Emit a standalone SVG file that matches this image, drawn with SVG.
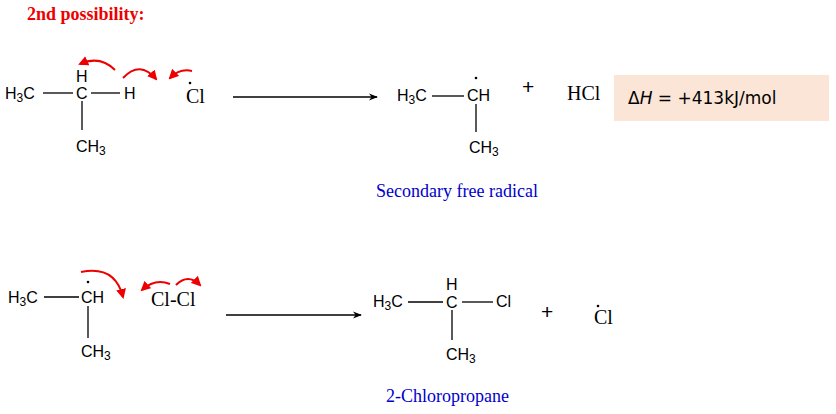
<svg xmlns="http://www.w3.org/2000/svg" width="836" height="414" viewBox="0 0 836 414">
<style>
.s{font-family:"Liberation Sans",Arial,sans-serif;font-size:16px;fill:#000}
.p{font-family:"Liberation Sans",Arial,sans-serif;font-size:21px;fill:#000}
.r{font-family:"Liberation Serif","Times New Roman",serif;font-size:20px;fill:#000}
.bl{font-family:"Liberation Serif","Times New Roman",serif;font-size:18px;fill:#00c}
.b{stroke:#000;stroke-width:1.3;fill:none}
.c{stroke:#e00;stroke-width:2;fill:none}
.sub{font-size:12px}
</style>
<defs>
<marker id="ra" viewBox="0 0 10 10" refX="8" refY="5" markerWidth="5" markerHeight="5" orient="auto"><path d="M0,0 L10,5 L0,10 z" fill="#e00"/></marker>
<marker id="ka" viewBox="0 0 10 10" refX="9" refY="5" markerWidth="9" markerHeight="9" orient="auto" markerUnits="userSpaceOnUse"><path d="M0,1 L10,5 L0,9 L3,5 z" fill="#000"/></marker>
</defs>
<text x="27" y="20" style="font-family:'Liberation Serif',serif;font-size:18px;font-weight:bold;fill:#e00">2nd possibility:</text>
<g id="reactant1">
<text class="s" x="5" y="99">H<tspan class="sub" dy="3">3</tspan><tspan dy="-3">C</tspan></text>
<line class="b" x1="43" y1="93" x2="73" y2="93"/>
<text class="s" x="76" y="99">C</text><text class="s" x="76" y="82">H</text>
<line class="b" x1="91" y1="93" x2="120" y2="93"/>
<text class="s" x="124" y="99">H</text>
<line class="b" x1="82" y1="101" x2="82" y2="130"/>
<text class="s" x="76" y="152">CH<tspan class="sub" dy="3">3</tspan></text>
</g>
<g id="cl1"><text class="r" x="186" y="103">Cl</text><circle cx="190" cy="83" r="1.3"/></g>
<g id="product1">
<text class="s" x="397" y="101">H<tspan class="sub" dy="3">3</tspan><tspan dy="-3">C</tspan></text>
<line class="b" x1="432" y1="96" x2="464" y2="96"/>
<text class="s" x="467" y="101">CH</text><circle cx="476" cy="78" r="1.3"/>
<line class="b" x1="476" y1="104" x2="476" y2="132"/>
<text class="s" x="469" y="153">CH<tspan class="sub" dy="3">3</tspan></text>
</g>
<text class="p" x="522" y="94">+</text>
<text class="r" x="567" y="100">HCl</text>
<g id="box"><rect x="614" y="75" width="215" height="46" fill="#fbe5d6"/>
<text x="628" y="104" style="font-family:'DejaVu Sans',sans-serif;font-size:17px">Δ<tspan font-style="italic">H</tspan> =  +413kJ/mol</text></g>
<text class="bl" x="376" y="197">Secondary free radical</text>
<g id="reactant2">
<text class="s" x="8" y="303">H<tspan class="sub" dy="3">3</tspan><tspan dy="-3">C</tspan></text>
<line class="b" x1="44" y1="297" x2="79" y2="297"/>
<text class="s" x="81" y="303">CH</text><circle cx="88" cy="282" r="1.3"/>
<line class="b" x1="88" y1="306" x2="88" y2="338"/>
<text class="s" x="81" y="357">CH<tspan class="sub" dy="3">3</tspan></text>
</g>
<g id="clcl"><text class="r" x="151" y="306">Cl-Cl</text></g>
<g id="product2">
<text class="s" x="373" y="307">H<tspan class="sub" dy="3">3</tspan><tspan dy="-3">C</tspan></text>
<line class="b" x1="408" y1="302" x2="443" y2="302"/>
<text class="s" x="446" y="308">C</text><text class="s" x="446" y="290">H</text>
<line class="b" x1="462" y1="302" x2="493" y2="302"/>
<text class="s" x="496" y="307">Cl</text>
<line class="b" x1="452" y1="310" x2="452" y2="340"/>
<text class="s" x="446" y="360">CH<tspan class="sub" dy="3">3</tspan></text>
</g>
<text class="p" x="541" y="319">+</text>
<g id="cl2"><text class="r" x="594" y="324">Cl</text><circle cx="598" cy="306" r="1.3"/></g>
<text class="bl" x="386" y="402">2-Chloropropane</text>
<g id="connectors">
<line class="b" x1="233" y1="97" x2="377" y2="97" marker-end="url(#ka)"/>
<line class="b" x1="226" y1="315" x2="361" y2="315" marker-end="url(#ka)"/>
<path class="c" d="M115,70 Q100,55 80,64" marker-end="url(#ra)"/>
<path class="c" d="M123,78 Q140,60 156,79" marker-end="url(#ra)"/>
<path class="c" d="M192,71 Q180,68 170,78" marker-end="url(#ra)"/>
<path class="c" d="M81,272 Q115,265 123,297" marker-end="url(#ra)"/>
<path class="c" d="M170,284 Q155,278 142,290" marker-end="url(#ra)"/>
<path class="c" d="M176,285 Q188,273 200,285" marker-end="url(#ra)"/>
</g>
</svg>
